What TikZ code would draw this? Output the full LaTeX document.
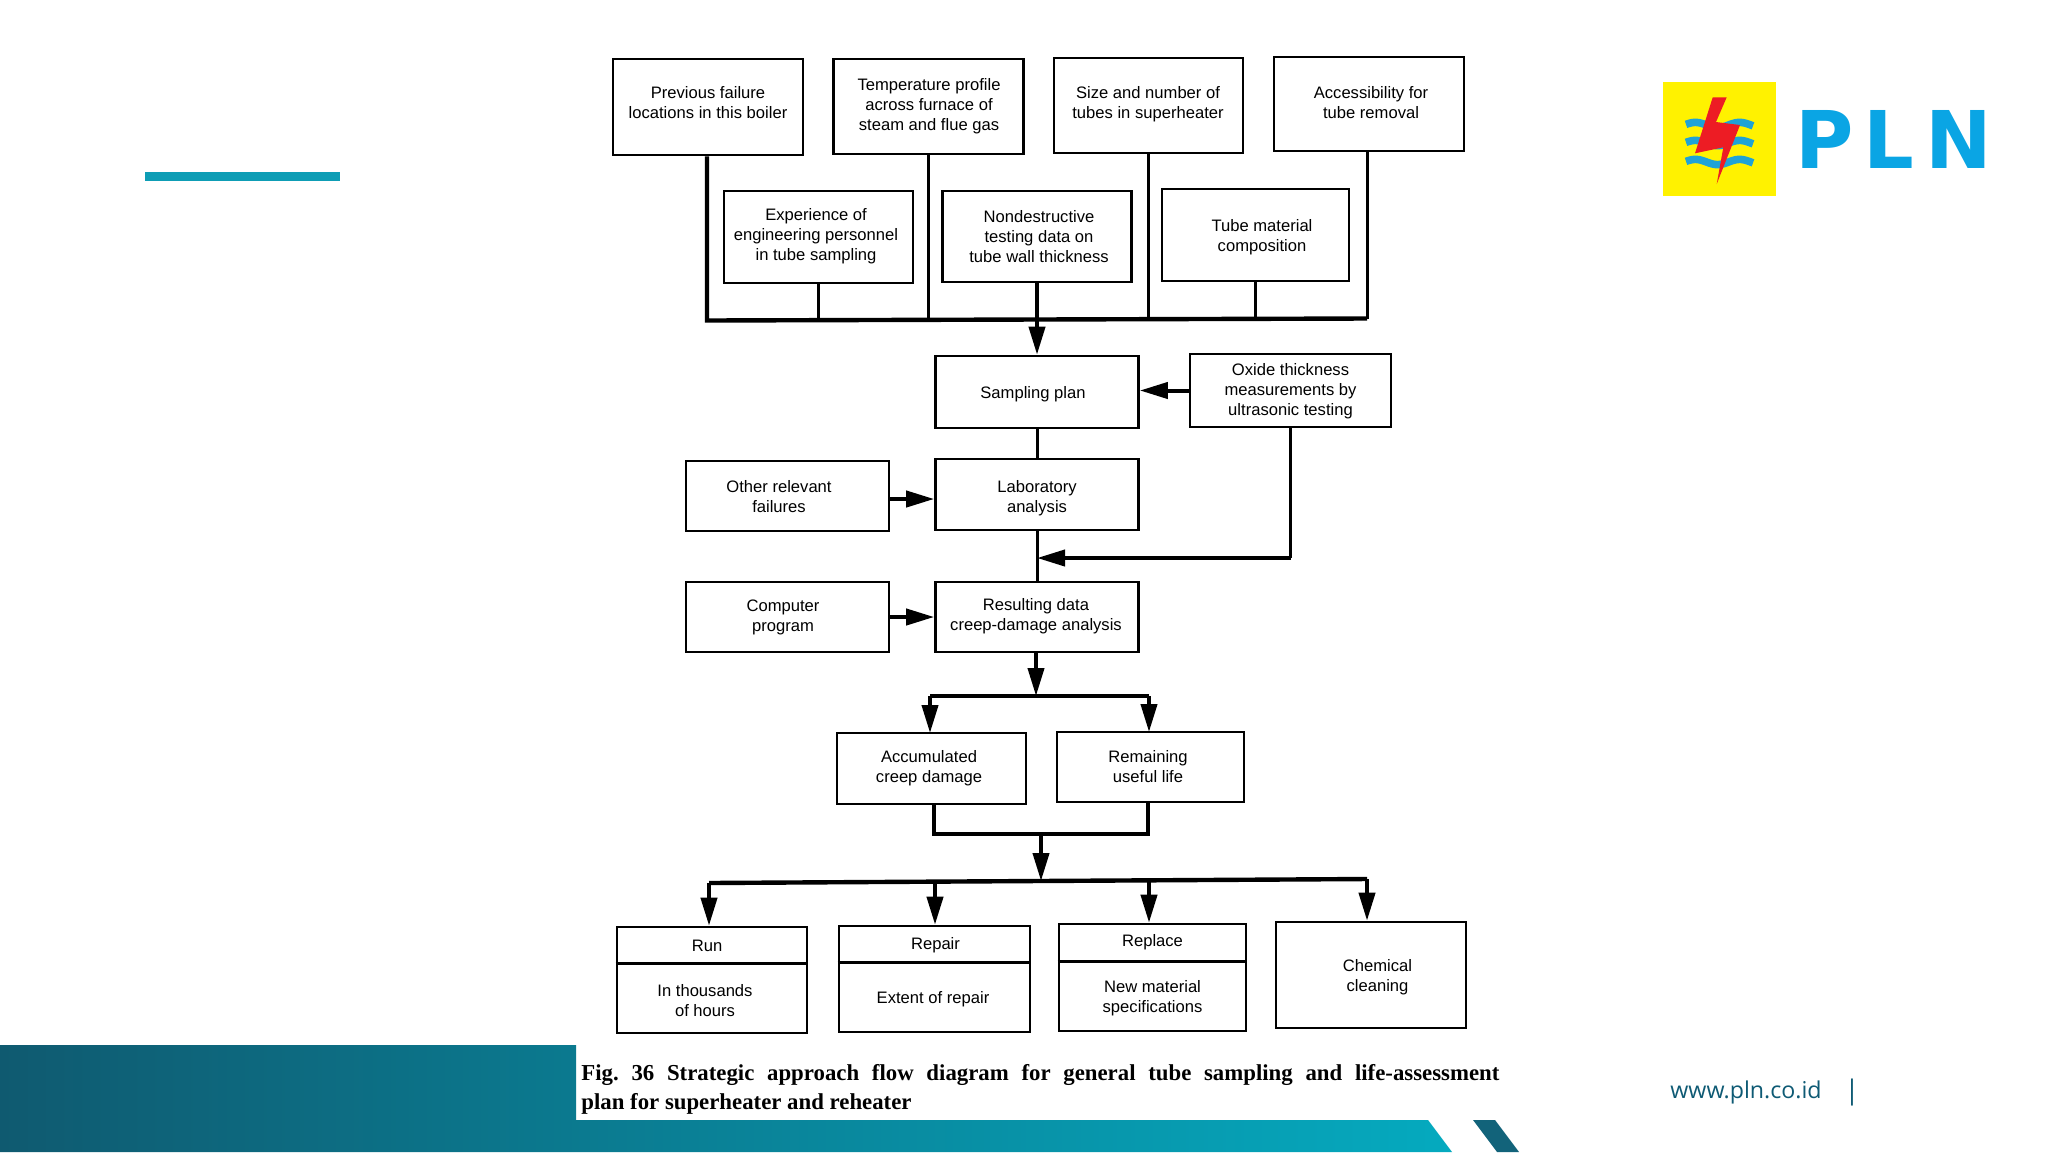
\documentclass[tikz,border=0pt]{standalone}
\usepackage{fontspec}
\setmainfont{Liberation Sans}
\newfontfamily\capfont{Liberation Serif}
\newfontfamily\webfont{Open Sans}
\newfontfamily\logofont{DejaVu Sans}
\usetikzlibrary{arrows.meta}
\definecolor{plnblue}{HTML}{0AA5E4}
\definecolor{plnwave}{HTML}{1FA3D6}
\definecolor{plnred}{HTML}{ED1C24}
\definecolor{plnyellow}{HTML}{FFF200}
\definecolor{tealdark}{HTML}{0F5A70}
\definecolor{tealmid}{HTML}{008696}
\definecolor{teallight}{HTML}{05AABF}
\definecolor{tealbar}{HTML}{0E9DB5}
\definecolor{tealslash}{HTML}{12637A}
\definecolor{tealtext}{HTML}{0E5A74}
\tikzset{
    flowbox/.style={draw=black,line width=1.3pt,fill=white,inner sep=0pt},
    boxtext/.style={inner sep=0pt,align=center,font=\fontsize{8.3}{10}\selectfont},
    wire/.style={draw=black,line width=1.5pt},
    wirethick/.style={draw=black,line width=2.2pt},
    flowarrow/.style={draw=black,line width=2pt,-{Triangle[length=14pt,width=8pt]}},
    logoletter/.style={inner sep=0pt,text=plnblue,font=\logofont\fontsize{39.8}{40}\selectfont\bfseries}
}

\begin{document}
\begin{tikzpicture}[x=0.5pt,y=-0.5pt]
            \useasboundingbox (0,0) rectangle (2048,1152);
            % slide decoration
            \fill[white] (0,0) rectangle (2048,1152);
            \fill[tealbar] (145,172) rectangle (340,181);
            \shade[left color=tealdark,middle color=tealmid,right color=teallight] (0,1045) -- (576,1045) -- (576,1120) -- (1428,1120) -- (1452,1152) -- (0,1152) -- cycle;
            \fill[tealslash] (1473,1120) -- (1495,1120) -- (1519,1152) -- (1497,1152) -- cycle;
            % logo
            \fill[plnyellow] (1663,82) rectangle (1776,196);
            \foreach \wavey in {125,143,162} {
                \draw[plnwave,line width=3.8pt,domain=0:1,samples=40] plot ({1686+67*\x},{\wavey-2.6*cos(545*(\x-0.14))});
            }
            \fill[plnred] (1712.7,97.3) -- (1726.7,97.3) -- (1716,122) -- (1740,125) -- (1716.7,184) -- (1723.3,147.3) -- (1695,153.3) -- cycle;
            \node[logoletter] (logop) at (1824.5,139) {P};
            \node[logoletter] (logol) at (1889,139) {L};
            \node[logoletter] (logon) at (1959,139) {N};
            % first row
            \node[flowbox,minimum width=95pt,minimum height=48pt] (prev) at (708,107) {};
            \node[boxtext] (prevtext) at (708,103) {Previous failure\\locations in this boiler};
            \node[flowbox,minimum width=95pt,minimum height=47.5pt] (temp) at (928.5,106.5) {};
            \node[boxtext] (temptext) at (929,106) {Temperature profile\\across furnace of\\steam and flue gas};
            \node[flowbox,minimum width=94.5pt,minimum height=47.5pt] (size) at (1148.5,105.5) {};
            \node[boxtext] (sizetext) at (1148,104) {Size and number of\\tubes in superheater};
            \node[flowbox,minimum width=95pt,minimum height=47pt] (access) at (1369,104) {};
            \node[boxtext] (accesstext) at (1371,103) {Accessibility for\\tube removal};
            % second row
            \node[flowbox,minimum width=94.5pt,minimum height=46pt] (exper) at (818.5,237) {};
            \node[boxtext] (expertext) at (816,236) {Experience of\\engineering personnel\\in tube sampling};
            \node[flowbox,minimum width=94.5pt,minimum height=45.5pt] (ndt) at (1037,236.5) {};
            \node[boxtext] (ndttext) at (1039,237) {Nondestructive\\testing data on\\tube wall thickness};
            \node[flowbox,minimum width=93.5pt,minimum height=46pt] (tube) at (1255.5,235) {};
            \node[boxtext] (tubetext) at (1262,237) {Tube material\\composition};
            % middle
            \node[flowbox,minimum width=101.5pt,minimum height=36pt] (plan) at (1037,392) {};
            \node[boxtext] (plantext) at (1033,394) {Sampling plan};
            \node[flowbox,minimum width=100.5pt,minimum height=36.5pt] (oxide) at (1290.5,390.5) {};
            \node[boxtext] (oxidetext) at (1290.5,391) {Oxide thickness\\measurements by\\ultrasonic testing};
            \node[flowbox,minimum width=101.5pt,minimum height=35.5pt] (lab) at (1037,494.5) {};
            \node[boxtext] (labtext) at (1037,498) {Laboratory\\analysis};
            \node[flowbox,minimum width=101.5pt,minimum height=35pt] (other) at (787.5,496) {};
            \node[boxtext] (othertext) at (779,497) {Other relevant\\failures};
            \node[flowbox,minimum width=101.5pt,minimum height=35pt] (result) at (1037,617) {};
            \node[boxtext] (resulttext) at (1036,616) {Resulting data\\creep-damage analysis};
            \node[flowbox,minimum width=101.5pt,minimum height=35pt] (comp) at (787.5,617) {};
            \node[boxtext] (comptext) at (783,617) {Computer\\program};
            \node[flowbox,minimum width=94.5pt,minimum height=35.5pt] (accum) at (931.5,768.5) {};
            \node[boxtext] (accumtext) at (929,768) {Accumulated\\creep damage};
            \node[flowbox,minimum width=93.5pt,minimum height=35pt] (remain) at (1150.5,767) {};
            \node[boxtext] (remaintext) at (1148,767) {Remaining\\useful life};
            % last row
            \node[flowbox,minimum width=95pt,minimum height=53pt] (run) at (712,980) {};
            \node[boxtext] (runtext) at (707,946) {Run};
            \node[boxtext] (hourstext) at (705,1001) {In thousands\\of hours};
            \node[flowbox,minimum width=95.5pt,minimum height=53pt] (repair) at (934.5,979) {};
            \node[boxtext] (repairtext) at (935.5,945) {Repair};
            \node[boxtext] (extenttext) at (933,999) {Extent of repair};
            \node[flowbox,minimum width=93.5pt,minimum height=53.5pt] (replace) at (1152.5,977.5) {};
            \node[boxtext] (replacetext) at (1152.5,942) {Replace};
            \node[boxtext] (newmattext) at (1152.5,998) {New material\\specifications};
            \node[flowbox,minimum width=95pt,minimum height=53pt] (chem) at (1371,975) {};
            \node[boxtext] (chemtext) at (1377.5,977) {Chemical\\cleaning};
            \draw[wire] (run.west |- 0,963) -- (run.east |- 0,963);
            \draw[wire] (repair.west |- 0,962) -- (repair.east |- 0,962);
            \draw[wire] (replace.west |- 0,961) -- (replace.east |- 0,961);
            % upper bus
            \coordinate (busleft) at (707,320.5);
            \coordinate (busright) at (1367,318.5);
            \coordinate (busmid) at (1037,319.5);
            \draw[wirethick] (prev.south -| busleft) -- (busleft) -- (busright);
            \draw[wire] (busright) -- (busright |- access.south);
            \draw[wire] (temp.south) -- (temp.south |- busleft);
            \draw[wire] (size.south) -- (size.south |- busleft);
            \draw[wire] (exper.south) -- (exper.south |- busleft);
            \draw[wire] (tube.south) -- (tube.south |- busleft);
            \draw[wirethick] (ndt.south) -- (busmid);
            \draw[flowarrow] (busmid) -- (plan.north);
            % middle arrows
            \draw[flowarrow] (oxide.west) -- (plan.east |- oxide.west);
            \draw[wire] (plan.south) -- (lab.north);
            \coordinate (oxidejoin) at (oxide.south |- 0,558);
            \coordinate (labjoin) at (lab.south |- 0,558);
            \draw[wire] (lab.south) -- (result.north);
            \draw[wire] (oxide.south) -- (oxidejoin);
            \draw[flowarrow] (oxidejoin) -- (labjoin);
            \draw[flowarrow] (other.east |- 0,499) -- (lab.west |- 0,499);
            \draw[flowarrow] (comp.east) -- (result.west);
            \coordinate (splitbar) at (1036,696);
            \draw[wirethick] (930,696) -- (1149,696);
            \draw[flowarrow] (result.south -| splitbar) -- (splitbar);
            \draw[flowarrow] (930,696) -- (930,733);
            \draw[flowarrow] (1149,696) -- (1149,732);
            % lower bus
            \coordinate (joinbar) at (1041,834);
            \draw[wirethick] (934,804) -- (934,834) -- (1148,834) -- (1148,802);
            \coordinate (busrun) at (709,883);
            \coordinate (busrepair) at (935,882);
            \coordinate (busmiddle) at (1041,881);
            \coordinate (busreplace) at (1149,880);
            \coordinate (buschem) at (1367,879);
            \draw[wirethick] (busrun) -- (buschem);
            \draw[flowarrow] (joinbar) -- (busmiddle);
            \draw[flowarrow] (busrun) -- (busrun |- run.north);
            \draw[flowarrow] (busrepair) -- (busrepair |- repair.north);
            \draw[flowarrow] (busreplace) -- (busreplace |- replace.north);
            \draw[flowarrow] (buschem) -- (buschem |- chem.north);
            % caption and footer
            \node[anchor=north west,inner sep=0pt,align=left,font=\capfont\bfseries\fontsize{11.4}{14.4}\selectfont] (caption) at (581,1064) {\frenchspacing\makebox[459pt][s]{Fig. 36 Strategic approach flow diagram for general tube sampling and life-assessment}\\plan for superheater and reheater};
            \node[anchor=west,inner sep=0pt,text=tealtext,font=\webfont\fontsize{11.6}{13}\selectfont] (web) at (1670,1092) {www.pln.co.id};
            \node[inner sep=0pt,text=tealtext,font=\webfont\fontsize{13.5}{13.5}\selectfont] (websep) at (1852,1092) {|};
        \end{tikzpicture}
\end{document}
